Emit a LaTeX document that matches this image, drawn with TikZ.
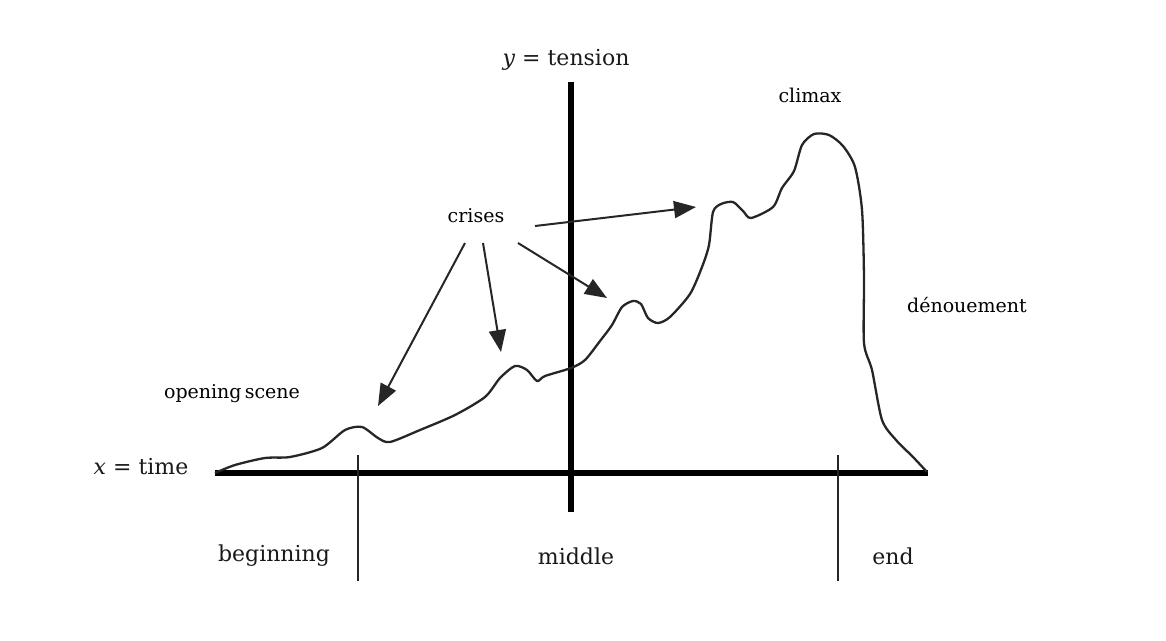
\documentclass[tikz,border=0pt]{standalone}
\usepackage{fontspec}
\setmainfont{DejaVu Serif}
\usetikzlibrary{arrows.meta}
\begin{document}
\begin{tikzpicture}[x=1pt,y=-1pt,
  axis/.style={line width=5.5pt},
  tick/.style={line width=1.6pt, draw=black!85},
  curve/.style={line width=2.3pt, draw=black!85, line join=round},
  pointer/.style={line width=2pt, draw=black!85, -{Triangle[length=22pt,width=17pt]}},
  biglabel/.style={font=\fontsize{22}{26}\selectfont, text=black!90, inner sep=1pt},
  smalllabel/.style={font=\fontsize{19}{22}\selectfont, text=black, inner sep=1pt}]
\useasboundingbox (0,0) rectangle (1166,640);
% axes
\coordinate (xa) at (215,473);
\coordinate (xb) at (928,473);
\coordinate (ya) at (571,82);
\coordinate (yb) at (571,512);
\draw[axis] (xa) -- (xb);
\draw[axis] (ya) -- (yb);
% ticks
\coordinate (t1a) at (358,455); \coordinate (t1b) at (358,581);
\coordinate (t2a) at (838,455); \coordinate (t2b) at (838,581);
\draw[tick] (t1a) -- (t1b);
\draw[tick] (t2a) -- (t2b);
% curve
\draw[curve] plot[smooth, tension=0.45] coordinates {
 (215,473) (235,465) (265,458) (290,457) (322,448) (345,430) (362,427)
 (378,438) (390,442) (420,430) (455,415) (485,397) (500,378) (515,366)
 (527,370) (537,381) (545,376) (571,368) (585,360) (600,341) (612,325)
 (622,307) (633,301) (641,304) (648,318) (658,323) (670,317) (690,294)
 (702,267) (709,245) (713,212) (721,204) (733,202) (743,211) (751,218)
 (773,207) (782,188) (794,171) (802,145) (814,134) (829,135) (843,146)
 (855,167) (862,210) (864,277) (864,343) (872,370) (882,420) (896,440)
 (913,457) (927,472)};
% labels
\node[biglabel] (xl) at (141,467) {\textit{x} = time};
\node[biglabel] (yl) at (566,60) {\textit{y} = tension};
\node[biglabel] (beg) at (274,556) {beginning};
\node[biglabel] (mid) at (576,556) {middle};
\node[biglabel] (end) at (893,556) {end};
\node[smalllabel] (clim) at (810,95) {climax};
\node[smalllabel] (cri) at (476,216) {crises};
\node[smalllabel] (open) at (232,394) {opening\,scene};
\node[smalllabel] (den) at (967,305) {dénouement};
% arrows
\coordinate (s1) at (465,243);
\coordinate (s2) at (483,243);
\coordinate (s3) at (518,243);
\coordinate (s4) at (535,226);
\coordinate (a1) at (378,406);
\coordinate (a2) at (501,352);
\coordinate (a3) at (607,298);
\coordinate (a4) at (696,207);
\draw[pointer] (s1) -- (a1);
\draw[pointer] (s2) -- (a2);
\draw[pointer] (s3) -- (a3);
\draw[pointer] (s4) -- (a4);
\end{tikzpicture}
\end{document}
